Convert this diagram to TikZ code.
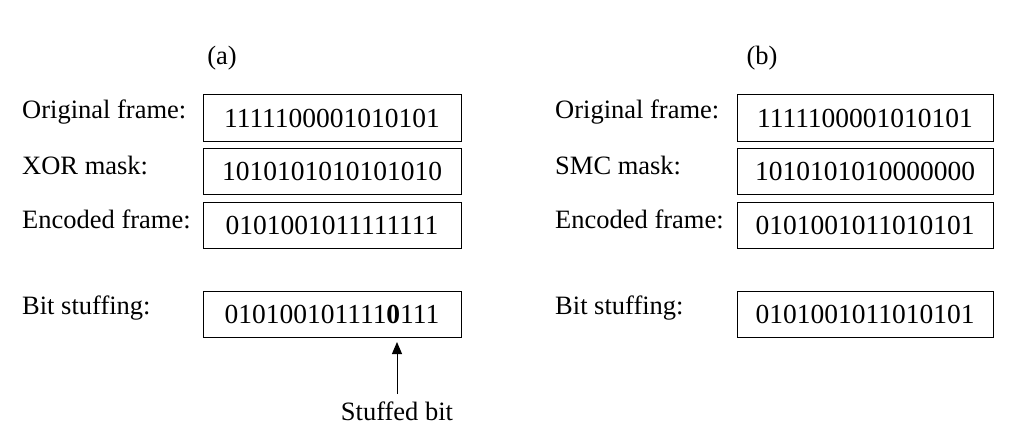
\documentclass[tikz,border=0pt]{standalone}
\usepackage{fontspec}
\setmainfont{Liberation Serif}
\usetikzlibrary{arrows.meta}
\begin{document}
\begin{tikzpicture}[x=1pt,y=-1pt,
  every node/.style={font=\fontsize{26.5}{30}\selectfont},
  box/.style={draw,line width=1pt,minimum width=258pt,minimum height=46pt,inner sep=0pt,font=\fontsize{27.5}{30}\selectfont},
  lab/.style={anchor=west,inner sep=0pt}]
\useasboundingbox (0,0) rectangle (1019,441);
\node (ta) at (222,58) {(a)};
\node (tb) at (762,58) {(b)};
% (a)
\node[box] (a1) at (332,118) {1111100001010101};
\node[box] (a2) at (332,171) {1010101010101010};
\node[box] (a3) at (332,225) {0101001011111111};
\node[box] (a4) at (332,314) {010100101111\textbf{0}111};
\node[lab] (la1) at (22,112) {Original frame:};
\node[lab] (la2) at (22,165) {XOR mask:};
\node[lab] (la3) at (22,219) {Encoded frame:};
\node[lab] (la4) at (22,308) {Bit stuffing:};
% (b)
\node[box,minimum width=256pt] (b1) at (865,118) {1111100001010101};
\node[box,minimum width=256pt] (b2) at (865,171) {1010101010000000};
\node[box,minimum width=256pt] (b3) at (865,225) {0101001011010101};
\node[box,minimum width=256pt] (b4) at (865,314) {0101001011010101};
\node[lab] (lb1) at (555,112) {Original frame:};
\node[lab] (lb2) at (555,165) {SMC mask:};
\node[lab] (lb3) at (555,219) {Encoded frame:};
\node[lab] (lb4) at (555,308) {Bit stuffing:};
\node (sb) at (397,411) {Stuffed bit};
\coordinate (tip) at (397,342);
\draw[line width=1pt,-{Triangle[length=12pt,width=10pt]}] (sb.north) ++(0,-4) -- (tip);
\end{tikzpicture}
\end{document}
